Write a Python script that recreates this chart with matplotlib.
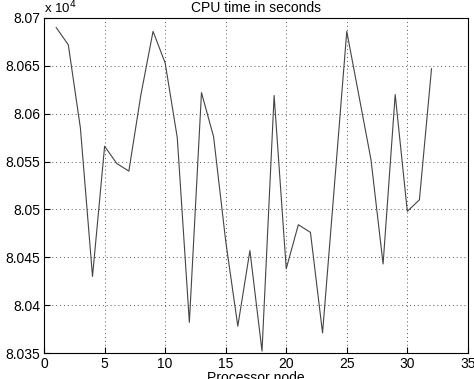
import matplotlib.pyplot as plt
import numpy as np

plt.rcParams['font.family'] = ['Liberation Sans', 'DejaVu Sans']

# CPU time per processor node, in units of 1e4 seconds
nodes = np.arange(1, 33)
cpu_time = [8.0690, 8.0672, 8.0585, 8.0430, 8.0566, 8.0548, 8.0540, 8.0620,
            8.0686, 8.0653, 8.0575, 8.0382, 8.0622, 8.0576, 8.0467, 8.0378,
            8.0457, 8.0352, 8.0619, 8.0438, 8.0484, 8.0476, 8.0371, 8.0528,
            8.0686, 8.0619, 8.0552, 8.0443, 8.0620, 8.0498, 8.0510, 8.0647]

xticks = [0, 5, 10, 15, 20, 25, 30, 35]
yticks = [8.035, 8.04, 8.045, 8.05, 8.055, 8.06, 8.065, 8.07]
ylabels = ['8.035', '8.04', '8.045', '8.05', '8.055', '8.06', '8.065', '8.07']

fig = plt.figure(figsize=(4.74, 3.79), dpi=100)
ax = fig.add_axes([0.093, 0.0686, 0.894, 0.884])
ax.plot(nodes, cpu_time, color='#444444', linewidth=0.8)

ax.set_xlim(0, 35)
ax.set_ylim(8.035, 8.07)
ax.set_xticks(xticks)
ax.set_yticks(yticks)
ax.set_yticklabels(ylabels)
ax.tick_params(direction='in', labelsize=10, length=4, pad=3)
ax.grid(True, linestyle=(0, (1, 3)), color='#555555', linewidth=0.7)
for s in ax.spines.values():
    s.set_linewidth(0.8)

ax.set_title('CPU time in seconds', fontsize=10, pad=4)
ax.set_xlabel('Processor node', fontsize=10, labelpad=0)
ax.set_ylabel('CPU time', fontsize=10, labelpad=2)
ax.text(0.0, 1.005, r'x 10$^4$', transform=ax.transAxes, fontsize=9.5,
        ha='left', va='bottom')

fig.savefig('out.png', dpi=100)
